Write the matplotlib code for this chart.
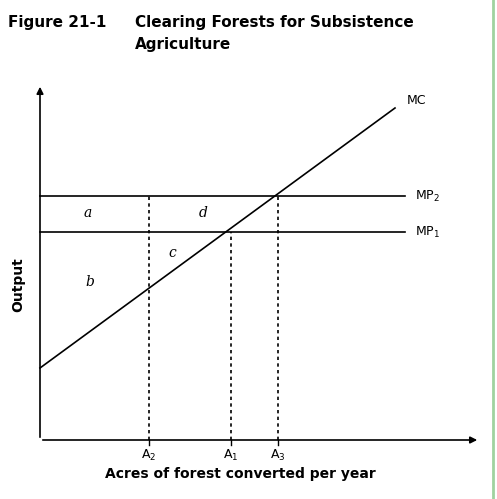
import numpy as np
import matplotlib.pyplot as plt

# data in units measured from the axis origin
mc_x = [0, 355]
mc_y = [72, 332]
mp2 = 244
mp1 = 208
a_ticks = [109, 191, 238]
a_labels = ["A$_2$", "A$_1$", "A$_3$"]
regions = [("a", 48, 227), ("d", 163, 227), ("c", 132, 187), ("b", 50, 158)]

fig = plt.figure(figsize=(4.97, 4.99), dpi=100)
ax = fig.add_axes([0, 0, 1, 1])
ax.set_xlim(-40, 457)
ax.set_ylim(-59, 440)
ax.axis("off")

# axes with arrows
ax.annotate("", xy=(440, 0), xytext=(0, 0),
            arrowprops=dict(arrowstyle="-|>", color="black", lw=1.2))
ax.annotate("", xy=(0, 356), xytext=(0, 0),
            arrowprops=dict(arrowstyle="-|>", color="black", lw=1.2))

ax.plot(mc_x, mc_y, color="black", lw=1.2)
ax.plot([0, 365], [mp2, mp2], color="black", lw=1.2)
ax.plot([0, 365], [mp1, mp1], color="black", lw=1.2)

# dotted verticals
tops = [mp2, mp1, mp2]
for x, top in zip(a_ticks, tops):
    ax.plot([x, x], [0, top], color="black", lw=1.2, ls=(0, (2, 2)))
    ax.plot([x, x], [0, -5], color="black", lw=1)
for x, lab in zip(a_ticks, a_labels):
    ax.text(x, -8, lab, ha="center", va="top", fontsize=9)

for lab, x, y in regions:
    ax.text(x, y, lab, ha="center", va="center", fontsize=10, style="italic",
            family="DejaVu Serif")

ax.text(367, 340, "MC", fontsize=9, va="center")
ax.text(375, mp2, "MP$_2$", fontsize=9, va="center")
ax.text(375, mp1, "MP$_1$", fontsize=9, va="center")

ax.text(-22, 155, "Output", rotation=90, ha="center", va="center",
        fontsize=10, fontweight="bold")
ax.text(200, -34, "Acres of forest converted per year", ha="center",
        va="center", fontsize=10, fontweight="bold")

ax.text(-32, 418, "Figure 21-1", fontsize=11, fontweight="bold", va="center")
ax.text(95, 418, "Clearing Forests for Subsistence", fontsize=11,
        fontweight="bold", va="center")
ax.text(95, 396, "Agriculture", fontsize=11, fontweight="bold", va="center")

ax.plot([453, 453], [-59, 440], color="#9fd39f", lw=2)

fig.savefig("out.png", dpi=100)
